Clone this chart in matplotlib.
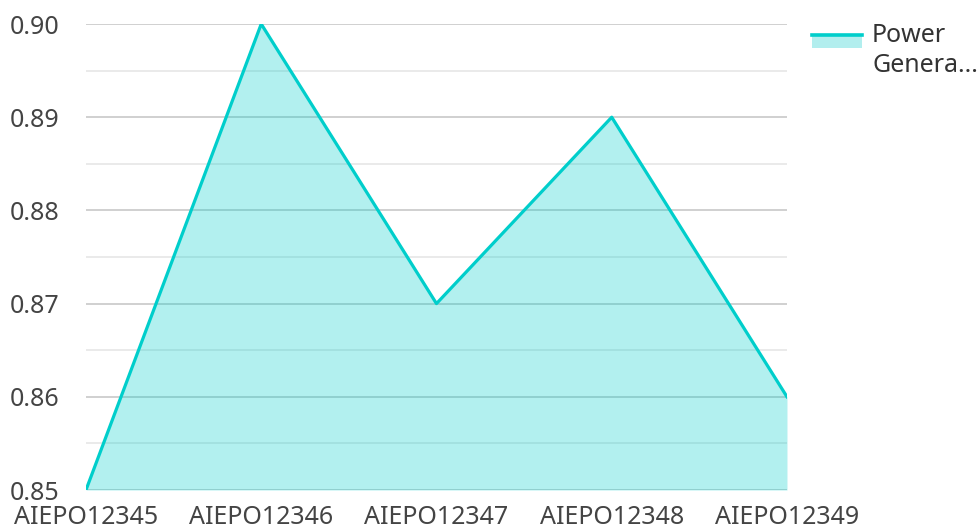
import matplotlib.pyplot as plt
from matplotlib.lines import Line2D
from matplotlib.patches import Rectangle
from matplotlib.ticker import MultipleLocator

plt.rcParams['font.family'] = ['Noto Sans', 'DejaVu Sans']

# data
units = ['AIEPO12345', 'AIEPO12346', 'AIEPO12347', 'AIEPO12348', 'AIEPO12349']
power = [0.85, 0.90, 0.87, 0.89, 0.86]
series_name = 'Power\nGenera...'

line_color = '#00cecb'
fill_color = '#b2eeee'

fig = plt.figure(figsize=(9.77, 5.31), dpi=100)
ax = fig.add_axes([0.088, 0.0772, 0.7175, 0.8776])

x = list(range(len(units)))
ax.fill_between(x, power, 0.85, color=line_color, alpha=0.3, linewidth=0, zorder=2)
ax.plot(x, power, color=line_color, linewidth=2.3, zorder=3)

ax.set_xlim(0, len(units) - 1)
ax.set_ylim(0.85, 0.90)
ax.yaxis.set_major_locator(MultipleLocator(0.01))
ax.yaxis.set_minor_locator(MultipleLocator(0.005))
ax.yaxis.set_major_formatter(plt.FormatStrFormatter('%.2f'))
ax.grid(axis='y', which='major', color='#c8c8c8', linewidth=1.2, zorder=1)
ax.grid(axis='y', which='minor', color='#e6e6e6', linewidth=1.2, zorder=1)
ax.set_axisbelow(True)

ax.set_xticks(x)
ax.set_xticklabels(units)
ax.tick_params(axis='both', which='both', length=0, labelsize=18, labelcolor='#444444')
ax.tick_params(axis='y', pad=19)
ax.tick_params(axis='x', pad=11)
for s in ax.spines.values():
    s.set_visible(False)

# legend drawn by hand: fill swatch with line on top
fig.add_artist(Rectangle((812 / 977, 1 - 48 / 531), 50 / 977, 12 / 531,
                         transform=fig.transFigure, color=fill_color, lw=0))
fig.add_artist(Line2D([812 / 977, 862 / 977], [1 - 35 / 531] * 2,
                      transform=fig.transFigure, color=line_color, lw=2.6))
fig.text(872 / 977, 1 - 23 / 531, series_name, fontsize=18, color='#333333',
         va='top', ha='left', linespacing=1.28)

fig.savefig('out.png', dpi=100)
